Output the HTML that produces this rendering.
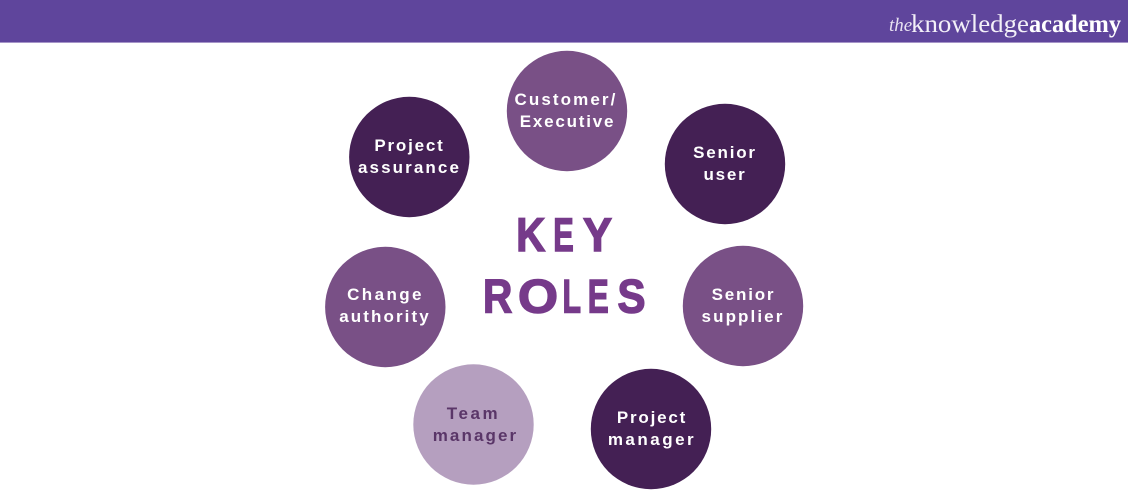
<!DOCTYPE html>
<html><head><meta charset="utf-8"><style>
html,body{margin:0;padding:0;background:#fff}
svg{display:block}
text{font-family:"Liberation Sans",sans-serif}
.l{font-size:17px;font-weight:700;text-anchor:middle;letter-spacing:1.8px;fill:#fff}
.t{font-size:47px;font-weight:700;fill:#763a8a;stroke:#763a8a;stroke-width:1.5px}
</style></head><body>
<svg width="1128" height="504" viewBox="0 0 1128 504" xmlns="http://www.w3.org/2000/svg">
<rect width="1128" height="504" fill="#fff"/>
<rect width="1128" height="42" fill="#5f459c"/>
<rect y="42" width="1128" height="1" fill="#a594c8"/>
<text x="889" y="31" style="font-family:'Liberation Serif',serif;font-size:19px;font-style:italic" fill="#e8e2f2">the</text>
<text x="911" y="32" style="font-family:'Liberation Serif',serif;font-size:25.5px" fill="#f3f0f8" textLength="118" lengthAdjust="spacingAndGlyphs">knowledge</text>
<text x="1029" y="32" style="font-family:'Liberation Serif',serif;font-size:25.5px;font-weight:700" fill="#fff" textLength="92" lengthAdjust="spacingAndGlyphs">academy</text>
<circle cx="567" cy="111" r="60.2" fill="#795086"/>
<circle cx="725" cy="164" r="60.2" fill="#442054"/>
<circle cx="743" cy="306" r="60.2" fill="#795086"/>
<circle cx="651" cy="429" r="60.2" fill="#442054"/>
<circle cx="473.500" cy="424.500" r="60.2" fill="#b59fbf"/>
<circle cx="385.300" cy="307" r="60.2" fill="#795086"/>
<circle cx="409.300" cy="157" r="60.2" fill="#442054"/>
<text class="l" x="566" y="105" style="letter-spacing:2.1px">Customer/</text><text class="l" x="567.500" y="127">Executive</text>
<text class="l" x="725" y="158">Senior</text><text class="l" x="725" y="180">user</text>
<text class="l" x="743.500" y="300">Senior</text><text class="l" x="743" y="322" style="letter-spacing:2.1px">supplier</text>
<text class="l" x="652" y="423">Project</text><text class="l" x="652" y="445" style="letter-spacing:2.5px">manager</text>
<text class="l" x="473.500" y="419" style="fill:#5a3668;letter-spacing:2.6px">Team</text><text class="l" x="475.500" y="441" style="fill:#5a3668;letter-spacing:2.1px">manager</text>
<text class="l" x="385.500" y="300" style="letter-spacing:2.4px">Change</text><text class="l" x="385" y="322" style="letter-spacing:2.1px">authority</text>
<text class="l" x="409.500" y="151">Project</text><text class="l" x="409.500" y="173" style="letter-spacing:2.1px">assurance</text>
<text class="t" x="516.300" y="251" textLength="29" lengthAdjust="spacingAndGlyphs">K</text>
<text class="t" x="553.300" y="251" textLength="20.500" lengthAdjust="spacingAndGlyphs">E</text>
<text class="t" x="583" y="251" textLength="29" lengthAdjust="spacingAndGlyphs">Y</text>
<text class="t" x="483" y="312.500" textLength="29.300" lengthAdjust="spacingAndGlyphs">R</text>
<text class="t" x="518" y="312.500" textLength="40" lengthAdjust="spacingAndGlyphs">O</text>
<text class="t" x="562.500" y="312.500" textLength="18.500" lengthAdjust="spacingAndGlyphs">L</text>
<text class="t" x="587.800" y="312.500" textLength="21" lengthAdjust="spacingAndGlyphs">E</text>
<text class="t" x="617.500" y="312.500" textLength="28" lengthAdjust="spacingAndGlyphs">S</text>
</svg>
</body></html>
